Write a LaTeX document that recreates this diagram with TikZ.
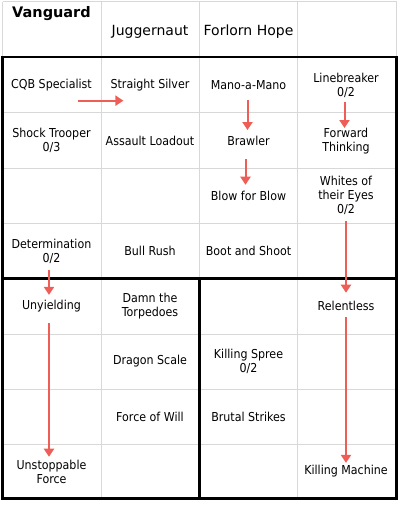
\documentclass[tikz,border=0pt]{standalone}
\usepackage{fontspec}
\setmainfont{DejaVu Sans}
\newfontfamily\cellfont{DejaVu Sans}[FakeStretch=0.9]
\usetikzlibrary{arrows.meta}
\usepackage{xcolor}
\definecolor{gridgray}{RGB}{216,216,216}
\definecolor{arrowred}{RGB}{238,94,86}

\begin{document}
\begin{tikzpicture}[x=1pt, y=-1pt]
        % ================= styles =================
        \tikzset{
            % talent cell text
            talent/.style={font=\cellfont\fontsize{12.3}{14}\selectfont, align=center, inner sep=2pt},
            % tree names in the header
            treename/.style={font=\fontsize{14}{17}\selectfont, anchor=base},
            % class name (top left)
            classname/.style={font=\fontsize{14.5}{17}\selectfont\bfseries, anchor=base west, inner sep=0pt},
            % thin grey grid
            gridline/.style={gridgray, line width=1pt},
            % thick black frame
            framel/.style={black, line width=2.5pt},
            % red arrows between talents
            flow/.style={arrowred, line width=2pt, -{Triangle[length=8pt, width=10pt]}}
        }
        \useasboundingbox (0,0) rectangle (400,505);

        % ================= grid =================
        \foreach \y in {2,57,113,168,223,334,389,444}
            \draw[gridline] (2.5,\y) -- (396.5,\y);
        \foreach \x in {2.5,101.5,199.5,297.5,396.5}
            \draw[gridline] (\x,2) -- (\x,498.5);

        % thick borders
        \draw[framel] (2.5,57) rectangle (396.5,498.5);
        \draw[framel] (2.5,278.5) -- (396.5,278.5);
        \draw[framel] (199.5,278.5) -- (199.5,498.5);

        % ================= header =================
        \node[classname] (vanguard) at (12,18) {Vanguard};
        \node[treename] (jugg) at (150,35.5) {Juggernaut};
        \node[treename] (forlorn) at (248.5,35.5) {Forlorn Hope};

        % ================= talents =================
        % row 1
        \node[talent] (cqb) at (51.5,85) {CQB Specialist};
        \node[talent] (silver) at (150,85) {Straight Silver};
        \node[talent] (mano) at (248.5,85) {Mano-a-Mano};
        \node[talent] (linebreaker) at (346,85.5) {Linebreaker\\0/2};
        % row 2
        \node[talent] (shock) at (51.5,140.5) {Shock Trooper\\0/3};
        \node[talent] (loadout) at (150,140.5) {Assault Loadout};
        \node[talent] (brawler) at (248.5,140.5) {Brawler};
        \node[talent] (forward) at (346,140.7) {Forward\\Thinking};
        % row 3
        \node[talent] (blow) at (248.5,195.5) {Blow for Blow};
        \node[talent] (whites) at (346,195.5) {Whites of\\their Eyes\\0/2};
        % row 4
        \node[talent] (determination) at (51.5,251) {Determination\\0/2};
        \node[talent] (bullrush) at (150,251) {Bull Rush};
        \node[talent] (boot) at (248.5,251) {Boot and Shoot};
        % row 5
        \node[talent] (unyielding) at (51.5,306) {Unyielding};
        \node[talent] (torpedoes) at (150,306) {Damn the\\Torpedoes};
        \node[talent] (relentless) at (346,306) {Relentless};
        % row 6
        \node[talent] (dragon) at (150,361) {Dragon Scale};
        \node[talent] (spree) at (248.5,361) {Killing Spree\\0/2};
        % row 7
        \node[talent] (will) at (150,416.5) {Force of Will};
        \node[talent] (brutal) at (248.5,416.5) {Brutal Strikes};
        % row 8
        \node[talent] (unstoppable) at (51.5,472) {Unstoppable\\Force};
        \node[talent] (machine) at (346,471.5) {Killing Machine};

        % ================= arrows =================
        \draw[flow] ([xshift=-16pt,yshift=-7.5pt]cqb.south east) -- ([xshift=15pt,yshift=-7.5pt]silver.south west);
        \draw[flow] ([xshift=-1pt,yshift=-8.5pt]mano.south) -- ([xshift=-1pt,yshift=3.5pt]brawler.north);
        \draw[flow] ([xshift=-3pt,yshift=-11.5pt]brawler.south) -- ([xshift=-3pt,yshift=3.8pt]blow.north);
        \draw[flow] ([xshift=-1.5pt,yshift=-2pt]linebreaker.south) -- ([xshift=-1.5pt,yshift=-2.5pt]forward.north);
        \draw[flow] ([yshift=-4pt]whites.south) -- ([yshift=6.3pt]relentless.north);
        \draw[flow] ([yshift=-4.3pt]relentless.south) -- ([yshift=0.5pt]machine.north);
        \draw[flow] ([xshift=-2.5pt,yshift=-4.5pt]determination.south) -- ([xshift=-2.5pt,yshift=3pt]unyielding.north);
        \draw[flow] ([xshift=-2.5pt,yshift=-9pt]unyielding.south) -- ([xshift=-2.5pt,yshift=1.3pt]unstoppable.north);

    \end{tikzpicture}
\end{document}
